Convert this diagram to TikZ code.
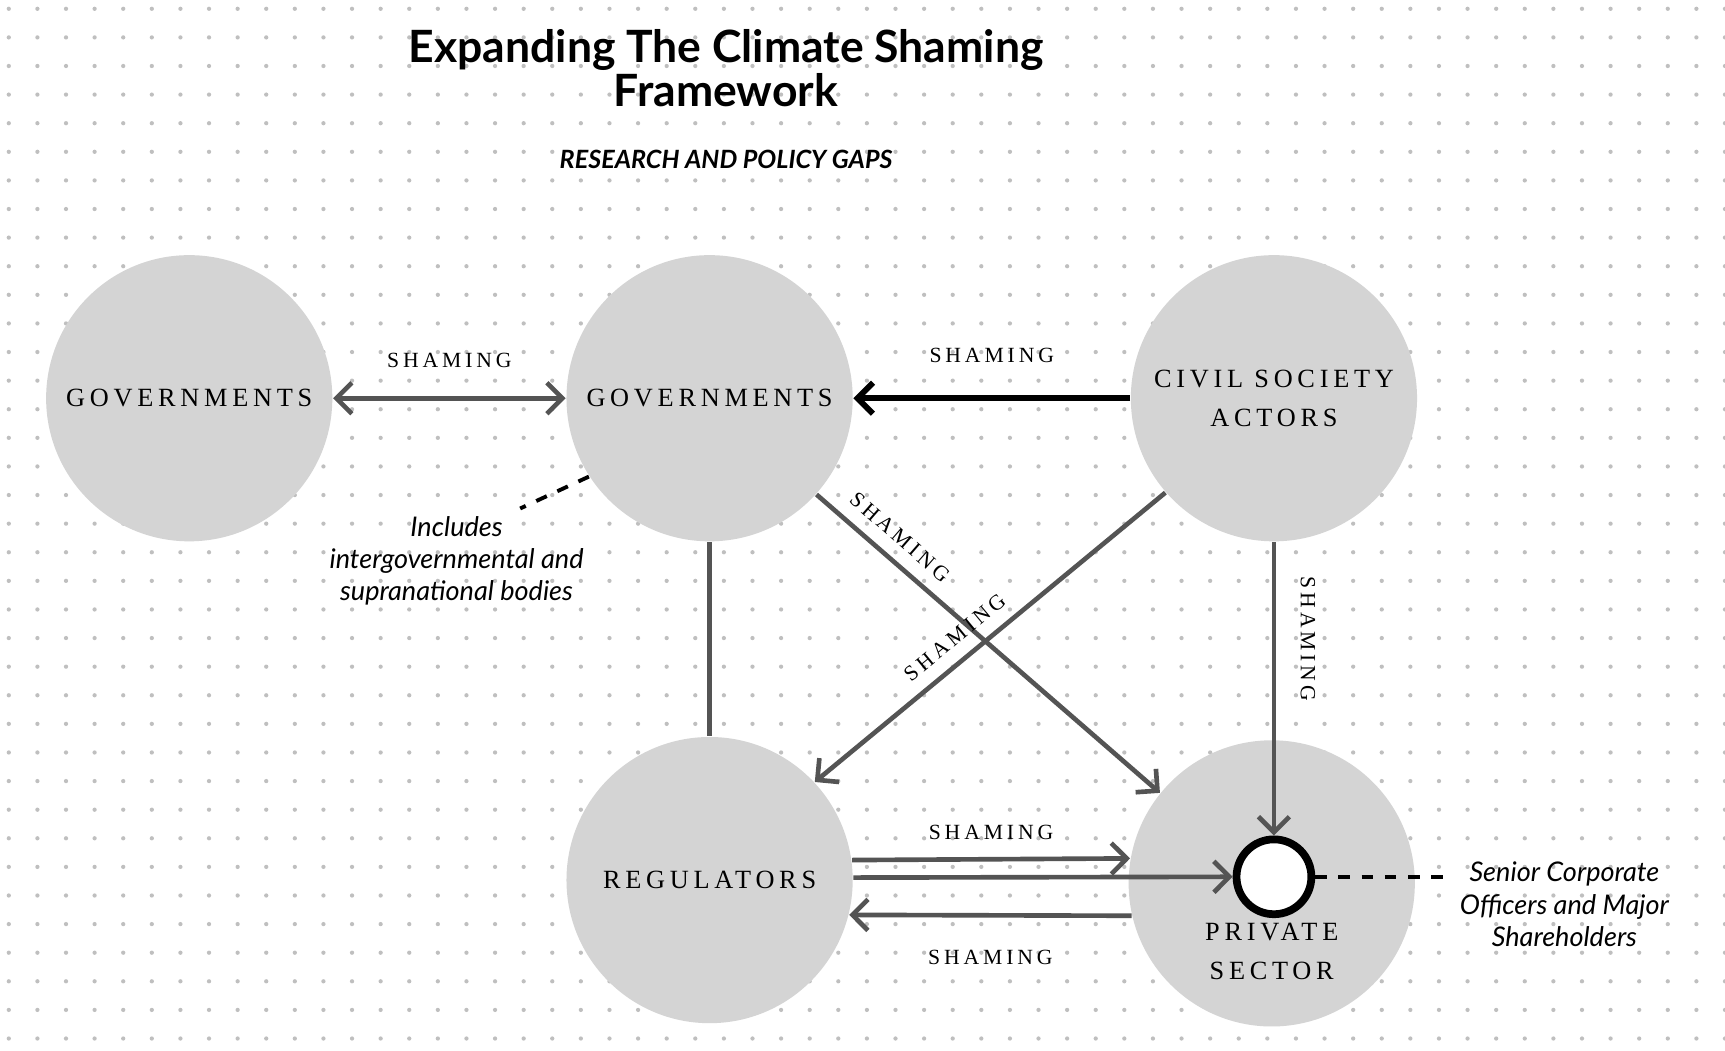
\documentclass[tikz,border=0pt]{standalone}
\usepackage{fontspec}
\setmainfont{Liberation Serif}
\newfontfamily\titlefont{Lato}
\usetikzlibrary{arrows.meta}

\tikzset{
  actor/.style={circle, fill=black!17, minimum size=2.6cm, inner sep=0pt, align=center,
    font=\addfontfeatures{LetterSpace=18}\fontsize{6.8}{10}\selectfont},
  flow/.style={draw=black!67, line width=1.2pt, -{Straight Barb[length=4pt,width=8pt]}},
  tag/.style={font=\addfontfeatures{LetterSpace=18}\fontsize{5.6}{7}\selectfont},
  note/.style={font=\titlefont\itshape\fontsize{7}{8.3}\selectfont, align=center}
}

\begin{document}
\begin{tikzpicture}[x=0.01cm, y=-0.01cm]
      \useasboundingbox (0,0) rectangle (1568,955);
      \fill [white] (0,0) rectangle (1568,955);
      % dotted paper
      \foreach \i in {0,...,60}
        \foreach \j in {0,...,36}
          \fill [black!25] (8+26*\i, 8+26*\j) circle (0.55pt);
      \node [font=\titlefont\bfseries\fontsize{11.5}{11.5}\selectfont, align=center] (title) at (660,62)
        {Expanding The Climate Shaming\\Framework};
      \node [font=\titlefont\bfseries\itshape\fontsize{6.5}{8}\selectfont] (gaps) at (660,145)
        {RESEARCH AND POLICY GAPS};
      \node [actor] (govA) at (172,362) {GOVERNMENTS};
      \node [actor] (govB) at (645,362) {GOVERNMENTS};
      \node [actor] (civil) at (1158,362) {CIVIL SOCIETY\\ACTORS};
      \node [actor] (reg) at (645,800) {REGULATORS};
      \node [actor] (priv) at (1156,803) {};
      \node [font=\addfontfeatures{LetterSpace=18}\fontsize{6.8}{10}\selectfont, align=center] (privlbl) at (1156,865) {PRIVATE\\SECTOR};
      \node [circle, draw, fill=white, line width=2pt, minimum size=0.68cm] (officers) at (1158,797) {};
      % connectors
      \draw [flow, {Straight Barb[length=4pt,width=8pt]}-{Straight Barb[length=4pt,width=8pt]}] (govA.east) -- node [tag, above=4pt] {SHAMING} (govB.west);
      \draw [flow, draw=black, line width=1.5pt] (civil.west) -- node [tag, above=5pt] {SHAMING} (govB.east);
      \draw [draw=black!67, line width=1.2pt] (govB.south) -- (reg.north);
      \draw [flow] (govB.-42) -- node [tag, pos=0.2, above, sloped] {SHAMING} (priv.141);
      \draw [flow] (civil.221) -- node [tag, pos=0.56, above, sloped] {SHAMING} (reg.43);
      \draw [flow] (civil.south) -- node [tag, pos=0.33, rotate=-90, above=3pt] {SHAMING} (officers.north);
      \draw [flow] (reg.8.4) -- node [tag, above=1pt] {SHAMING} (priv.170);
      \draw [flow] (reg.1) -- (officers.west);
      \draw [flow] (priv.193) -- node [tag, below=5pt] {SHAMING} (reg.-14);
      % side notes
      \node [note] (bodies) at (415,510) {Includes\\intergovernmental and\\supranational bodies};
      \draw [dashed, line width=1pt] (govB.-147) -- ([xshift=-0.7cm, yshift=-0.05cm]bodies.north east);
      \node [note] (holders) at (1422,822) {Senior Corporate\\Officers and Major\\Shareholders};
      \draw [dashed, line width=1pt] (officers.east) -- (holders.west |- officers.east);
\end{tikzpicture}
\end{document}
